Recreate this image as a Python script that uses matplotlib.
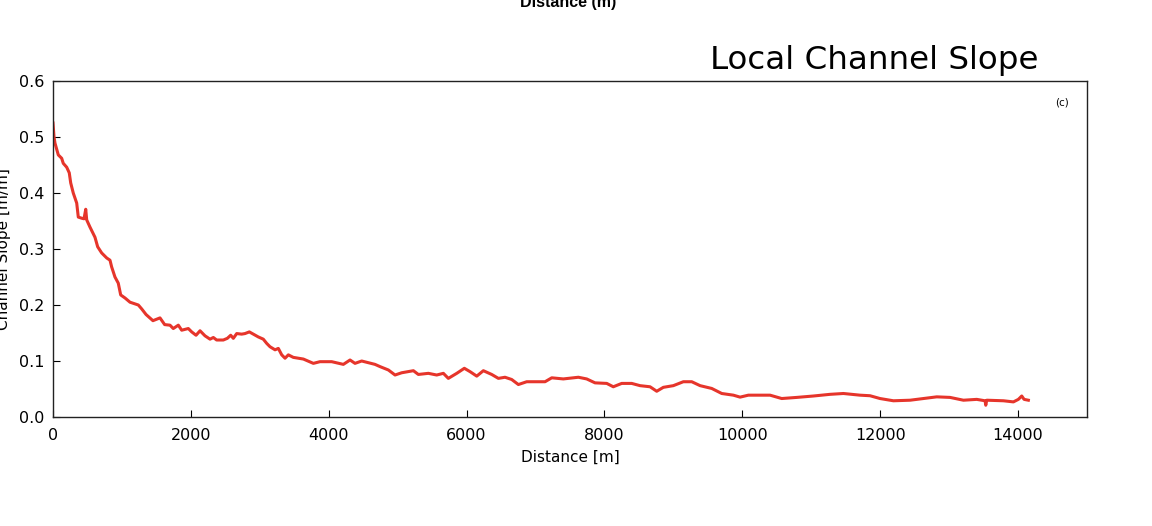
import matplotlib
matplotlib.use('Agg')
import matplotlib.pyplot as plt

distance = [0, 15, 29, 77, 126, 149, 199, 236, 257, 294, 344, 367, 416, 450, 475, 489,
            537, 609, 648, 706, 779, 827, 851, 899, 947, 982, 1045, 1117, 1238, 1287,
            1350, 1450, 1552, 1620, 1697, 1745, 1818, 1867, 1963, 2012, 2075, 2133, 2205,
            2278, 2326, 2374, 2471, 2529, 2578, 2616, 2665, 2737, 2785, 2848, 2906, 2978,
            3051, 3100, 3148, 3221, 3269, 3318, 3366, 3414, 3486, 3559, 3632, 3777, 3873,
            4043, 4212, 4309, 4381, 4478, 4575, 4671, 4744, 4865, 4962, 5058, 5228, 5300,
            5445, 5566, 5663, 5735, 5857, 5967, 6050, 6147, 6243, 6364, 6461, 6557, 6654,
            6751, 6872, 6993, 7138, 7235, 7403, 7621, 7742, 7863, 8033, 8128, 8250, 8395,
            8516, 8661, 8758, 8854, 8999, 9144, 9266, 9387, 9556, 9701, 9870, 9967, 10087,
            10209, 10402, 10571, 10789, 11030, 11272, 11466, 11707, 11852, 11997, 12191,
            12433, 12626, 12820, 13013, 13207, 13400, 13521, 13531, 13545, 13787, 13932,
            14004, 14053, 14087, 14149]
slope = [0.525, 0.5, 0.489, 0.468, 0.462, 0.453, 0.446, 0.436, 0.418, 0.4, 0.382, 0.357,
         0.355, 0.354, 0.371, 0.352, 0.339, 0.321, 0.304, 0.293, 0.284, 0.28, 0.268, 0.25,
         0.239, 0.218, 0.2125, 0.205, 0.2, 0.193, 0.183, 0.172, 0.177, 0.165, 0.164,
         0.158, 0.164, 0.155, 0.158, 0.152, 0.146, 0.154, 0.145, 0.139, 0.142, 0.1375,
         0.1375, 0.1405, 0.146, 0.1405, 0.149, 0.148, 0.149, 0.152, 0.148, 0.143, 0.139,
         0.1315, 0.1255, 0.12, 0.1225, 0.111, 0.105, 0.111, 0.1065, 0.105, 0.1035, 0.0958,
         0.0988, 0.0988, 0.094, 0.1018, 0.0958, 0.1, 0.097, 0.094, 0.09, 0.084, 0.075,
         0.079, 0.0827, 0.076, 0.078, 0.075, 0.078, 0.069, 0.078, 0.087, 0.081, 0.073,
         0.0827, 0.076, 0.069, 0.071, 0.067, 0.058, 0.063, 0.063, 0.063, 0.07, 0.068,
         0.071, 0.068, 0.061, 0.06, 0.054, 0.06, 0.06, 0.056, 0.054, 0.046, 0.053, 0.056,
         0.063, 0.063, 0.056, 0.051, 0.042, 0.039, 0.0355, 0.039, 0.039, 0.039, 0.033,
         0.035, 0.0375, 0.0405, 0.042, 0.039, 0.038, 0.033, 0.029, 0.03, 0.033, 0.036,
         0.035, 0.03, 0.0315, 0.029, 0.021, 0.03, 0.029, 0.027, 0.0315, 0.0375, 0.0315,
         0.03]

x_ticks = [0, 2000, 4000, 6000, 8000, 10000, 12000, 14000]
y_ticks = [0.0, 0.1, 0.2, 0.3, 0.4, 0.5, 0.6]

fig = plt.figure(figsize=(11.52, 5.26), dpi=100)
ax = fig.add_axes([0.046, 0.2072, 0.8976, 0.6388])

ax.plot(distance, slope, color='#e6352b', linewidth=2.2)

ax.set_xlim(0, 15000)
ax.set_ylim(0, 0.6)
ax.set_xticks(x_ticks)
ax.set_yticks(y_ticks)
ax.set_yticklabels(['%.1f' % v for v in y_ticks])
ax.tick_params(direction='in', length=5, labelsize=11.5, pad=6)
ax.tick_params(axis='x', pad=8)
ax.set_xlabel('Distance [m]', fontsize=11, labelpad=5)
ax.set_ylabel('Channel Slope [m/m]', fontsize=11)
ax.yaxis.set_label_coords(-0.0406, 0.5)
for s in ax.spines.values():
    s.set_linewidth(1.0)
    s.set_color('#222222')

ax.text(0.976, 0.9375, '(c)', transform=ax.transAxes, fontsize=7.5,
        ha='center', va='center')

fig.text(0.7587, 1 - 69 / 526, 'Local Channel Slope', fontsize=23.4,
         ha='center', va='baseline')
fig.text(0.493, 1 - 7 / 526, 'Distance (m)', fontsize=11.5, fontweight='bold',
         family='Liberation Sans', ha='center', va='baseline')

fig.savefig('out.png', dpi=100)
